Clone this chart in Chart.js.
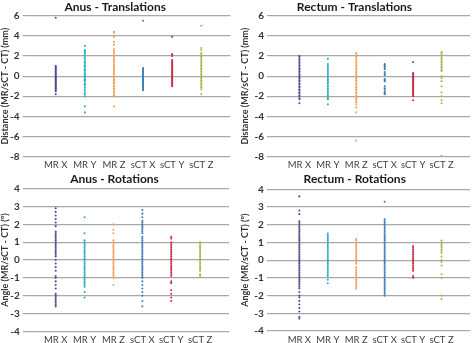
<!DOCTYPE html>
<html>
<head>
<meta charset="utf-8">
<script src="https://cdn.jsdelivr.net/npm/chart.js@4/dist/chart.umd.min.js"></script>
<style>
    html, body { margin: 0; padding: 0; background: #fff; }
    #wrap { position: relative; width: 474px; height: 343px; overflow: hidden; }
    canvas { position: absolute; }
</style>
</head>
<body>
<div id="wrap">
    <canvas id="c1" width="237" height="172" style="left:0;top:0"></canvas>
    <canvas id="c2" width="237" height="172" style="left:237px;top:0"></canvas>
    <canvas id="c3" width="237" height="171" style="left:0;top:172px"></canvas>
    <canvas id="c4" width="237" height="171" style="left:237px;top:172px"></canvas>
</div>
<script>
/* =======================================================
   DATA
   ======================================================= */
const categories = ["MR X", "MR Y", "MR Z", "sCT X", "sCT Y", "sCT Z"];
const colors = ["#4f4f8f", "#2fb0c0", "#f2a25c", "#3f7fb8", "#c8304a", "#a4b84c"];

const transTicks = [6, 4, 2, 0, -2, -4, -6, -8];
const rotTicks = [4, 3, 2, 1, 0, -1, -2, -3, -4];

// Anus - Translations (mm)
const anusTransMRX = [5.8, 1.0, 0.9, 0.8, 0.7, 0.6, 0.5, 0.4, 0.3, 0.2, 0.1, 0.0, -0.1, -0.2, -0.3, -0.4, -0.5, -0.6, -0.7, -0.8, -0.9, -1.0, -1.1, -1.2, -1.3, -1.4, -1.5, -1.8];
const anusTransMRY = [3.0, 2.6, 2.5, 2.4, 2.3, 2.1, 2.0, 1.8, 1.7, 1.5, 1.4, 1.3, 1.1, 1.0, 0.9, 0.7, 0.6, 0.5, 0.3, 0.2, 0.1, 0.0, -0.1, -0.3, -0.4, -0.5, -0.7, -0.8, -0.9, -1.1, -1.3, -1.5, -1.7, -1.8, -2.0, -3.0, -3.6];
const anusTransMRZ = [4.4, 4.3, 3.9, 3.4, 3.1, 2.7, 2.5, 2.3, 2.1, 2.0, 1.8, 1.7, 1.5, 1.4, 1.2, 1.1, 0.9, 0.8, 0.6, 0.5, 0.3, 0.2, 0.0, -0.1, -0.3, -0.4, -0.6, -0.7, -0.9, -1.0, -1.2, -1.3, -1.5, -1.6, -1.8, -1.9, -2.0, -3.0];
const anusTransSCTX = [5.5, 0.8, 0.7, 0.6, 0.5, 0.4, 0.3, 0.2, 0.1, 0.0, -0.1, -0.2, -0.3, -0.4, -0.5, -0.6, -0.7, -0.8, -0.9, -1.0, -1.1, -1.2, -1.3, -1.4];
const anusTransSCTY = [3.9, 2.2, 2.1, 2.0, 1.6, 1.5, 1.4, 1.3, 1.2, 1.1, 1.0, 0.9, 0.8, 0.7, 0.6, 0.5, 0.4, 0.3, 0.2, 0.1, 0.0, -0.1, -0.2, -0.3, -0.4, -0.5, -0.6, -0.7, -0.8, -0.9, -1.0];
const anusTransSCTZ = [5.0, 2.8, 2.6, 2.3, 2.2, 2.0, 1.9, 1.7, 1.6, 1.4, 1.3, 1.1, 1.0, 0.8, 0.7, 0.5, 0.4, 0.2, 0.1, -0.1, -0.2, -0.4, -0.5, -0.7, -0.8, -1.0, -1.1, -1.3, -1.8];

// Rectum - Translations (mm)
const rectTransMRX = [2.0, 1.9, 1.7, 1.6, 1.4, 1.3, 1.1, 1.0, 0.8, 0.7, 0.5, 0.4, 0.2, 0.1, -0.1, -0.2, -0.4, -0.5, -0.7, -0.8, -1.0, -1.1, -1.3, -1.4, -1.6, -1.7, -1.9, -2.0, -2.2, -2.3, -2.7];
const rectTransMRY = [1.7, 1.2, 1.1, 0.9, 0.8, 0.6, 0.5, 0.3, 0.2, 0.0, -0.1, -0.3, -0.4, -0.6, -0.7, -0.9, -1.0, -1.2, -1.3, -1.5, -1.6, -1.8, -1.9, -2.1, -2.2, -2.3, -2.8];
const rectTransMRZ = [2.3, 2.2, 2.0, 1.9, 1.7, 1.6, 1.4, 1.3, 1.1, 1.0, 0.8, 0.7, 0.5, 0.4, 0.2, 0.1, -0.1, -0.2, -0.4, -0.5, -0.7, -0.8, -1.0, -1.1, -1.3, -1.4, -1.6, -1.7, -1.9, -2.0, -2.2, -2.3, -2.5, -2.6, -2.8, -3.1, -3.6, -6.4];
const rectTransSCTX = [1.2, 1.1, 1.0, 0.9, 0.8, 0.7, 0.4, 0.2, 0.1, -0.3, -0.4, -0.5, -1.0, -1.2, -1.3, -1.5, -1.6, -1.7, -1.8];
const rectTransSCTY = [1.4, 0.3, 0.2, 0.1, 0.0, -0.1, -0.2, -0.3, -0.4, -0.5, -0.6, -0.7, -0.8, -0.9, -1.0, -1.1, -1.2, -1.3, -1.4, -1.5, -1.6, -1.7, -1.8, -1.9, -2.0, -2.4];
const rectTransSCTZ = [2.4, 2.3, 2.1, 2.0, 1.8, 1.7, 1.5, 1.4, 1.2, 1.1, 0.9, 0.8, 0.6, 0.5, 0.0, -0.2, -0.5, -1.0, -1.6, -2.0, -2.4, -2.7, -7.9];

// Anus - Rotations (deg)
const anusRotMRX = [2.9, 2.7, 2.5, 2.3, 2.1, 1.9, 1.6, 1.5, 1.4, 1.3, 1.2, 1.1, 1.0, 0.9, 0.8, 0.7, 0.6, 0.5, 0.4, 0.3, 0.2, 0.0, -0.2, -0.4, -0.6, -0.9, -1.0, -1.2, -1.4, -1.6, -1.9, -2.0, -2.1, -2.2, -2.3, -2.4, -2.5, -2.6];
const anusRotMRY = [2.4, 1.5, 1.1, 1.0, 0.9, 0.8, 0.7, 0.6, 0.5, 0.4, 0.3, 0.2, 0.1, 0.0, -0.1, -0.2, -0.3, -0.4, -0.5, -0.6, -0.7, -0.8, -0.9, -1.0, -1.1, -1.2, -1.3, -1.4, -1.5, -1.8, -2.1];
const anusRotMRZ = [2.0, 1.7, 1.5, 1.1, 1.0, 0.9, 0.8, 0.7, 0.6, 0.5, 0.4, 0.3, 0.2, 0.1, 0.0, -0.1, -0.2, -0.3, -0.4, -0.5, -0.6, -0.7, -0.8, -0.9, -1.0, -1.4];
const anusRotSCTX = [2.8, 2.6, 2.4, 2.2, 2.1, 2.0, 1.9, 1.8, 1.7, 1.6, 1.5, 1.3, 1.2, 1.1, 1.0, 0.9, 0.8, 0.7, 0.6, 0.5, 0.4, 0.3, 0.2, 0.1, 0.0, -0.1, -0.2, -0.3, -0.4, -0.5, -0.6, -0.7, -0.8, -0.9, -1.0, -1.2, -1.4, -1.6, -1.8, -2.0, -2.3, -2.6];
const anusRotSCTY = [1.3, 1.2, 1.0, 0.9, 0.8, 0.7, 0.6, 0.5, 0.4, 0.3, 0.2, 0.1, 0.0, -0.1, -0.2, -0.3, -0.4, -0.5, -0.6, -0.7, -0.8, -0.9, -1.2, -1.3, -1.7, -1.9, -2.1, -2.3];
const anusRotSCTZ = [1.0, 0.9, 0.8, 0.7, 0.6, 0.5, 0.4, 0.3, 0.2, 0.1, 0.0, -0.1, -0.2, -0.3, -0.4, -0.5, -0.6, -0.8, -0.9];

// Rectum - Rotations (deg)
const rectRotMRX = [3.6, 2.8, 2.6, 2.2, 2.1, 2.0, 1.9, 1.8, 1.7, 1.6, 1.5, 1.4, 1.3, 1.2, 1.1, 1.0, 0.9, 0.8, 0.7, 0.6, 0.5, 0.4, 0.3, 0.2, 0.1, 0.0, -0.1, -0.2, -0.3, -0.4, -0.5, -0.6, -0.7, -0.8, -0.9, -1.0, -1.1, -1.2, -1.3, -1.4, -1.5, -1.6, -1.8, -2.0, -2.1, -2.3, -2.5, -2.7, -2.9, -3.2, -3.3];
const rectRotMRY = [1.5, 1.4, 1.3, 1.2, 1.1, 1.0, 0.9, 0.8, 0.7, 0.6, 0.5, 0.4, 0.3, 0.2, 0.1, 0.0, -0.1, -0.2, -0.3, -0.4, -0.5, -0.6, -0.7, -0.8, -0.9, -1.1, -1.3];
const rectRotMRZ = [1.2, 1.1, 1.0, 0.9, 0.8, 0.7, 0.6, 0.5, 0.4, 0.3, 0.2, 0.1, 0.0, -0.1, -0.2, -0.4, -0.5, -0.6, -0.7, -0.8, -0.9, -1.0, -1.1, -1.2, -1.3, -1.4, -1.5, -1.6];
const rectRotSCTX = [3.3, 2.3, 2.2, 2.1, 2.0, 1.9, 1.8, 1.7, 1.6, 1.5, 1.4, 1.3, 1.2, 1.1, 1.0, 0.9, 0.8, 0.7, 0.6, 0.5, 0.4, 0.3, 0.2, 0.1, 0.0, -0.1, -0.2, -0.3, -0.4, -0.5, -0.6, -0.7, -0.8, -0.9, -1.0, -1.1, -1.2, -1.3, -1.4, -1.5, -1.6, -1.7, -1.8, -1.9, -2.0];
const rectRotSCTY = [0.8, 0.7, 0.6, 0.5, 0.4, 0.3, 0.2, 0.1, 0.0, -0.1, -0.2, -0.3, -0.4, -0.5, -0.6, -0.9, -1.0];
const rectRotSCTZ = [1.1, 1.0, 0.9, 0.8, 0.7, 0.6, 0.5, 0.4, 0.2, 0.0, -0.1, -0.3, -0.8, -1.0, -2.0, -2.2];

/* =======================================================
   CHART BUILDER
   ======================================================= */
function makeChart(id, title, series, ticks, yTitle, box) {
    const datasets = series.map((vals, i) => ({
        label: categories[i],
        data: vals.map(v => ({ x: i + 1, y: v })),
        backgroundColor: colors[i],
        borderColor: colors[i],
        pointRadius: 1.05,
        pointBorderWidth: 0
    }));

    return new Chart(document.getElementById(id), {
        type: "scatter",
        data: { datasets },
        options: {
            responsive: false,
            animation: false,
            devicePixelRatio: 1,
            layout: { padding: { top: 0, left: 0, right: box.right, bottom: 0 } },
            plugins: {
                legend: { display: false },
                tooltip: { enabled: false },
                title: {
                    display: true,
                    text: title,
                    color: "#1a1a1a",
                    font: { family: "Lato", size: 12, weight: "bold", lineHeight: 1.2 },
                    padding: { top: 0, bottom: box.titleGap }
                }
            },
            scales: {
                x: {
                    type: "linear",
                    min: 0,
                    max: 7,
                    afterBuildTicks: (s) => { s.ticks = categories.map((c, i) => ({ value: i + 1 })); },
                    afterFit: (s) => { s.height = box.xh; },
                    grid: { display: false, drawTicks: false },
                    border: { display: false },
                    ticks: {
                        autoSkip: false,
                        maxRotation: 0,
                        padding: 3,
                        color: "#404040",
                        font: { family: "Lato", size: 9.5 },
                        callback: (v) => categories[v - 1] || ""
                    }
                },
                y: {
                    min: ticks[ticks.length - 1],
                    max: ticks[0],
                    afterBuildTicks: (s) => { s.ticks = ticks.map(v => ({ value: v })); },
                    afterFit: (s) => { s.width = box.yw; },
                    grid: { color: "#a8a8a8", lineWidth: 1.2, tickLength: 4 },
                    border: { display: false },
                    ticks: {
                        padding: 3,
                        color: "#333333",
                        font: { family: "Lato", size: 10, weight: "bold" }
                    },
                    title: {
                        display: true,
                        text: yTitle,
                        color: "#333333",
                        font: { family: "Lato", size: 9, weight: "bold" },
                        padding: { top: box.titlePad, bottom: 0 }
                    }
                }
            }
        }
    });
}

makeChart("c1", "Anus - Translations",
    [anusTransMRX, anusTransMRY, anusTransMRZ, anusTransSCTX, anusTransSCTY, anusTransSCTZ],
    transTicks, "Distance (MR/sCT - CT) (mm)",
    { yw: 26.6, right: 6.6, xh: 15.3, titleGap: 1.3, titlePad: 0 });

makeChart("c2", "Rectum - Translations",
    [rectTransMRX, rectTransMRY, rectTransMRZ, rectTransSCTX, rectTransSCTY, rectTransSCTZ],
    transTicks, "Distance (MR/sCT - CT) (mm)",
    { yw: 34, right: 2, xh: 15.3, titleGap: 1.3, titlePad: 3 });

makeChart("c3", "Anus - Rotations",
    [anusRotMRX, anusRotMRY, anusRotMRZ, anusRotSCTX, anusRotSCTY, anusRotSCTZ],
    rotTicks, "Angle (MR/sCT - CT) (º)",
    { yw: 26.8, right: 8, xh: 11.7, titleGap: 2.3, titlePad: 0 });

makeChart("c4", "Rectum - Rotations",
    [rectRotMRX, rectRotMRY, rectRotMRZ, rectRotSCTX, rectRotSCTY, rectRotSCTZ],
    rotTicks, "Angle (MR/sCT - CT) (º)",
    { yw: 33.9, right: 1.5, xh: 12, titleGap: 2.9, titlePad: 3 });
</script>
</body>
</html>
